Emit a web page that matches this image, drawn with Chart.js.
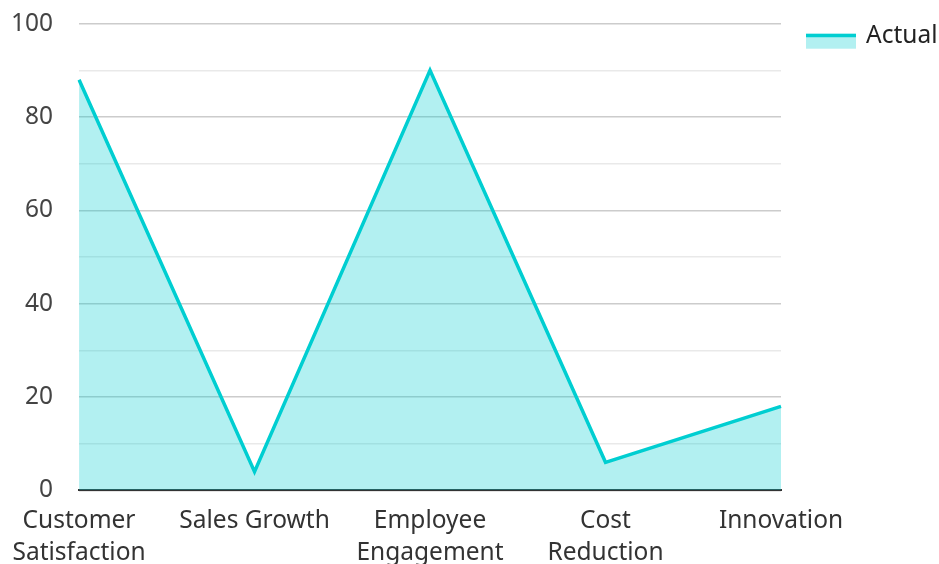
<!DOCTYPE html>
<html>
<head>
<meta charset="utf-8">
<script src="https://cdn.jsdelivr.net/npm/chart.js@4"></script>
<style>
  html, body { margin: 0; padding: 0; background: #fff; }
  #wrap { width: 939px; height: 564px; }
</style>
</head>
<body>
<div id="wrap"><canvas id="graph01"></canvas></div>
<script>
const categories = [
    ['Customer', 'Satisfaction'],
    'Sales Growth',
    ['Employee', 'Engagement'],
    ['Cost', 'Reduction'],
    'Innovation'
];
const actualValues = [88, 4, 90, 6, 18];
const yTicks = [0, 20, 40, 60, 80, 100];

const LINE_COLOR = 'rgb(0, 206, 209)';
const FILL_COLOR = 'rgba(0, 206, 209, 0.3)';
const FONT_SIZE = 24.5;
const FONT_FAMILY = '"Noto Sans", sans-serif';

Chart.defaults.font.family = FONT_FAMILY;
Chart.defaults.color = '#333';

// legend drawn by hand: filled box with a thick line along its top, then the label
const sideLegend = {
    id: 'sideLegend',
    afterDraw(chart) {
        const ctx = chart.ctx;
        const area = chart.chartArea;
        let x = area.right + 25;
        let y = area.top + 10;
        chart.data.datasets.forEach(ds => {
            ctx.save();
            ctx.fillStyle = ds.backgroundColor;
            ctx.fillRect(x, y, 50, 15);
            ctx.strokeStyle = ds.borderColor;
            ctx.lineWidth = 3.5;
            ctx.beginPath();
            ctx.moveTo(x, y + 1.75);
            ctx.lineTo(x + 50, y + 1.75);
            ctx.stroke();
            ctx.fillStyle = '#222';
            ctx.font = FONT_SIZE + 'px ' + FONT_FAMILY;
            ctx.textBaseline = 'middle';
            ctx.textAlign = 'left';
            ctx.fillText(ds.label, x + 60, y + 2.5);
            ctx.restore();
            y += 36;
        });
    }
};

new Chart(document.getElementById('graph01'), {
    type: 'line',
    data: {
        labels: categories,
        datasets: [{
            label: 'Actual',
            data: actualValues,
            borderColor: LINE_COLOR,
            backgroundColor: FILL_COLOR,
            borderWidth: 3.5,
            fill: 'origin',
            tension: 0,
            pointRadius: 0
        }]
    },
    options: {
        responsive: true,
        maintainAspectRatio: false,
        animation: false,
        layout: { padding: { top: 0, left: 2, right: 158, bottom: -12 } },
        plugins: {
            legend: { display: false },
            tooltip: { enabled: false }
        },
        scales: {
            x: {
                offset: false,
                z: 1,
                grid: { display: false },
                border: { display: true, color: '#333', width: 2 },
                ticks: {
                    maxRotation: 0,
                    autoSkip: false,
                    padding: 7,
                    font: { size: FONT_SIZE, lineHeight: 1.3 },
                    color: '#333'
                }
            },
            y: {
                min: 0,
                max: 100,
                border: { display: false },
                grid: {
                    drawTicks: true,
                    tickLength: 17,
                    tickColor: 'rgba(0,0,0,0)',
                    color: ctx => yTicks.includes(ctx.tick.value) ? '#cccccc' : '#e9e9e9',
                    lineWidth: 1.5
                },
                ticks: {
                    stepSize: 10,
                    padding: 9,
                    font: { size: FONT_SIZE },
                    color: '#444',
                    callback: v => yTicks.includes(v) ? v : ''
                }
            }
        }
    },
    plugins: [sideLegend]
});
</script>
</body>
</html>
